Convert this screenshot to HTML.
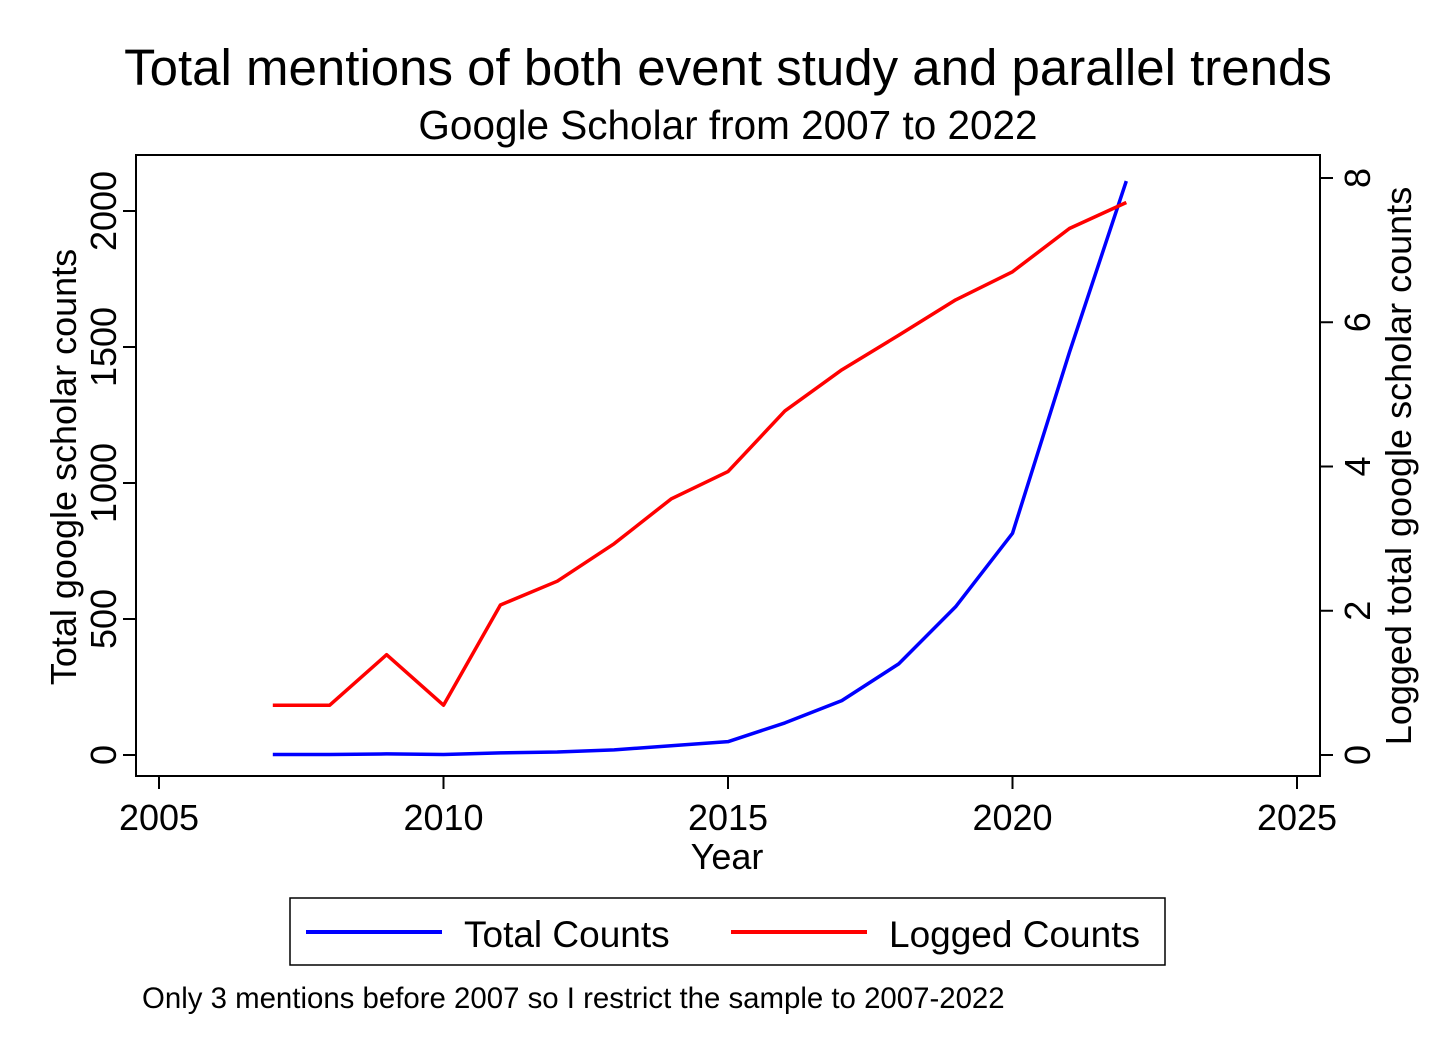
<!DOCTYPE html>
<html><head><meta charset="utf-8"><style>
body{margin:0;background:#fff;}
svg text{font-family:"Liberation Sans",Arial,sans-serif;fill:#000;}
</style></head><body>
<svg id="chart" width="1456" height="1059" xmlns="http://www.w3.org/2000/svg">
<rect width="1456" height="1059" fill="#fff"/>
<text x="728" y="85" font-size="51" text-anchor="middle">Total mentions of both event study and parallel trends</text>
<text x="728" y="139" font-size="40.5" text-anchor="middle">Google Scholar from 2007 to 2022</text>
<rect x="136" y="155" width="1184" height="621" fill="none" stroke="#000" stroke-width="2"/>
<g id="axes"></g>
<g id="series"></g>
<text x="727" y="869" font-size="36" text-anchor="middle">Year</text>
<text transform="translate(76,467) rotate(-90)" font-size="36" text-anchor="middle">Total google scholar counts</text>
<text transform="translate(1411,466) rotate(-90)" font-size="36" text-anchor="middle">Logged total google scholar counts</text>
<g>
<rect x="290" y="898" width="875" height="67" fill="#fff" stroke="#000" stroke-width="1.5"/>
<line x1="306" y1="932" x2="442" y2="932" stroke="#0000ff" stroke-width="4"/>
<text x="464" y="947" font-size="37">Total Counts</text>
<line x1="731" y1="932" x2="867" y2="932" stroke="#ff0000" stroke-width="4"/>
<text x="889" y="947" font-size="37">Logged Counts</text>
</g>
<text x="142" y="1008" font-size="29.4">Only 3 mentions before 2007 so I restrict the sample to 2007-2022</text>
</svg>
<script>
const years = [2007,2008,2009,2010,2011,2012,2013,2014,2015,2016,2017,2018,2019,2020,2021,2022];
const totalCounts = [2,2,4,2,8,11,19,34,49,118,200,335,545,815,1480,2110];
const loggedCounts = [0.69,0.69,1.39,0.69,2.08,2.41,2.93,3.55,3.93,4.77,5.34,5.82,6.31,6.70,7.30,7.66];
const xTicks = [2005,2010,2015,2020,2025];
const leftTicks = [0,500,1000,1500,2000];
const rightTicks = [0,2,4,6,8];

const NS="http://www.w3.org/2000/svg";
const xScale = v => 159 + (v-2005)*(1297-159)/20;
const yLeft = v => 755 - v*(755-211)/2000;
const yRight = v => 755 - v*(755-178)/8;
function mk(tag, attrs, parent){const e=document.createElementNS(NS,tag);for(const k in attrs)e.setAttribute(k,attrs[k]);parent.appendChild(e);return e;}
const axes=document.getElementById('axes');
xTicks.forEach(t=>{
  const x=xScale(t);
  const l=mk('line',{x1:x,y1:776,x2:x,y2:789,stroke:'#000','stroke-width':2},axes);
  
  
  const tx=mk('text',{x:x,y:830,'font-size':36,'text-anchor':'middle'},axes);
  tx.textContent=t;
  
  
});
leftTicks.forEach(t=>{
  const y=yLeft(t);
  const l=mk('line',{x1:123,y1:y,x2:136,y2:y,stroke:'#000','stroke-width':2},axes);
  
  
  const tx=mk('text',{transform:`translate(116,${y}) rotate(-90)`,'font-size':36,'text-anchor':'middle'},axes);
  tx.textContent=t;
  
  
});
rightTicks.forEach(t=>{
  const y=yRight(t);
  const l=mk('line',{x1:1320,y1:y,x2:1333,y2:y,stroke:'#000','stroke-width':2},axes);
  
  
  const tx=mk('text',{transform:`translate(1370,${y}) rotate(-90)`,'font-size':36,'text-anchor':'middle'},axes);
  tx.textContent=t;
  
  
});
const series=document.getElementById('series');
const p1=mk('polyline',{points:years.map((y,i)=>xScale(y)+','+yLeft(totalCounts[i])).join(' '),fill:'none',stroke:'#0000ff','stroke-width':3.5,'stroke-linejoin':'round'},series);


const p2=mk('polyline',{points:years.map((y,i)=>xScale(y)+','+yRight(loggedCounts[i])).join(' '),fill:'none',stroke:'#ff0000','stroke-width':3.5,'stroke-linejoin':'round'},series);


</script>
</body></html>
